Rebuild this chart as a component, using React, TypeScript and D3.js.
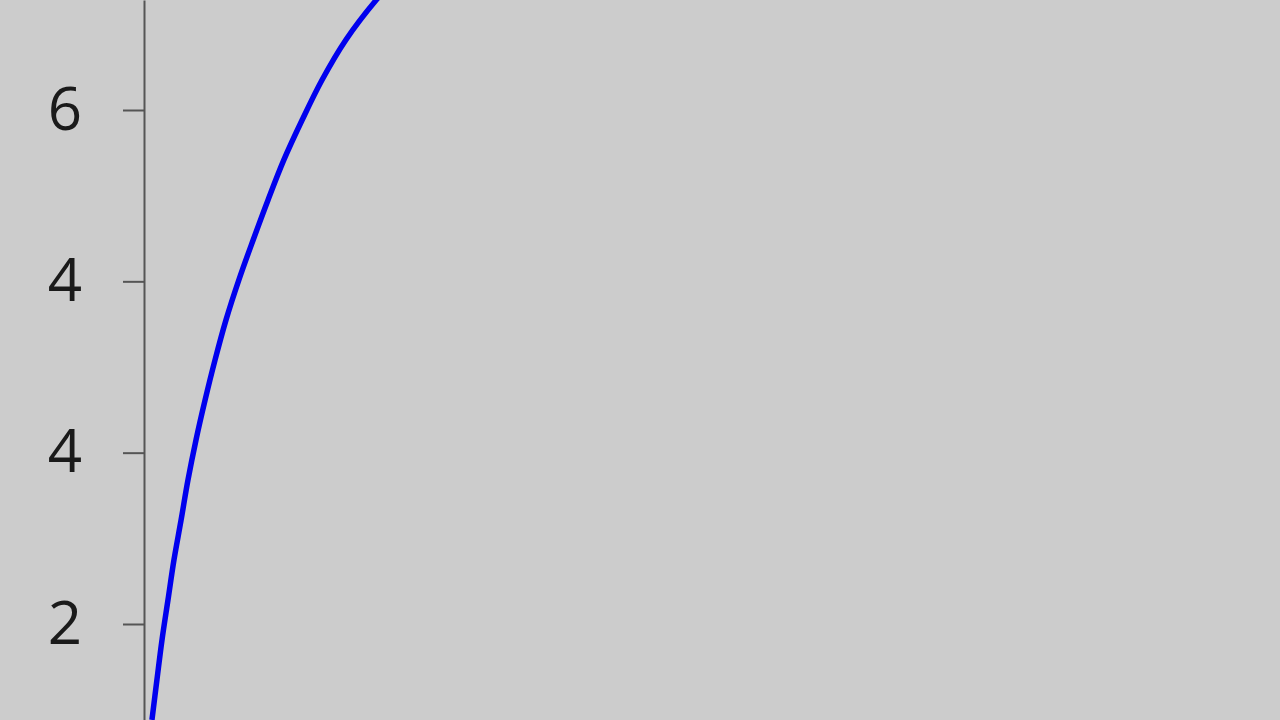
import React, { useRef, useEffect } from "react";
import * as d3 from "d3";

// curve points (x in arbitrary units, y in axis units)
const curveX = [
  0.07, 0.114, 0.158, 0.211, 0.264, 0.326, 0.387, 0.458, 0.537, 0.625,
  0.722, 0.836, 0.96, 1.092, 1.232, 1.391, 1.567, 1.778, 2.042, 2.368,
];
const curveY = [
  0.88, 1.35, 1.81, 2.28, 2.75, 3.21, 3.68, 4.15, 4.61, 5.08,
  5.55, 6.02, 6.48, 6.95, 7.42, 7.88, 8.35, 8.82, 9.28, 9.75,
];

const tickValues = [2, 4, 6, 8];
const tickLabels = ["2", "4", "4", "6"];

const width = 1280;
const height = 720;

const App = () => {
  const ref = useRef(null);

  useEffect(() => {
    const svg = d3.select(ref.current);
    svg.selectAll("*").remove();

    svg
      .append("rect")
      .attr("width", width)
      .attr("height", height)
      .attr("fill", "#cccccc");

    // axis at pixel 144, ticks 2 -> 624 and 8 -> 110
    const base = d3.scaleLinear().domain([2, 8]).range([624, 110]);
    const yScale = d3
      .scaleLinear()
      .domain([base.invert(height), base.invert(0)])
      .range([height, 0]);
    const xScale = d3.scaleLinear().domain([0, 10]).range([144, 1280]);

    const axis = d3
      .axisLeft(yScale)
      .tickValues(tickValues)
      .tickFormat((d, i) => tickLabels[i])
      .tickSize(21)
      .tickSizeOuter(0)
      .tickPadding(41);

    const g = svg.append("g").attr("transform", "translate(144,0)").call(axis);
    g.select(".domain").attr("stroke", "#555").attr("stroke-width", 2);
    g.selectAll(".tick line").attr("stroke", "#555").attr("stroke-width", 2);
    g.selectAll(".tick text")
      .attr("fill", "#1a1a1a")
      .style("font-family", "'Open Sans', sans-serif")
      .style("font-size", "60px");

    const line = d3
      .line<number>()
      .x((d, i) => xScale(curveX[i]))
      .y((d) => yScale(d))
      .curve(d3.curveCatmullRom);

    svg
      .append("path")
      .datum(curveY)
      .attr("d", line)
      .attr("fill", "none")
      .attr("stroke", "#0000ee")
      .attr("stroke-width", 5.5);
  }, []);

  return (
    <svg
      ref={ref}
      width={width}
      height={height}
      style={{ position: "fixed", left: 0, top: 0 }}
    ></svg>
  );
};

export default App;
